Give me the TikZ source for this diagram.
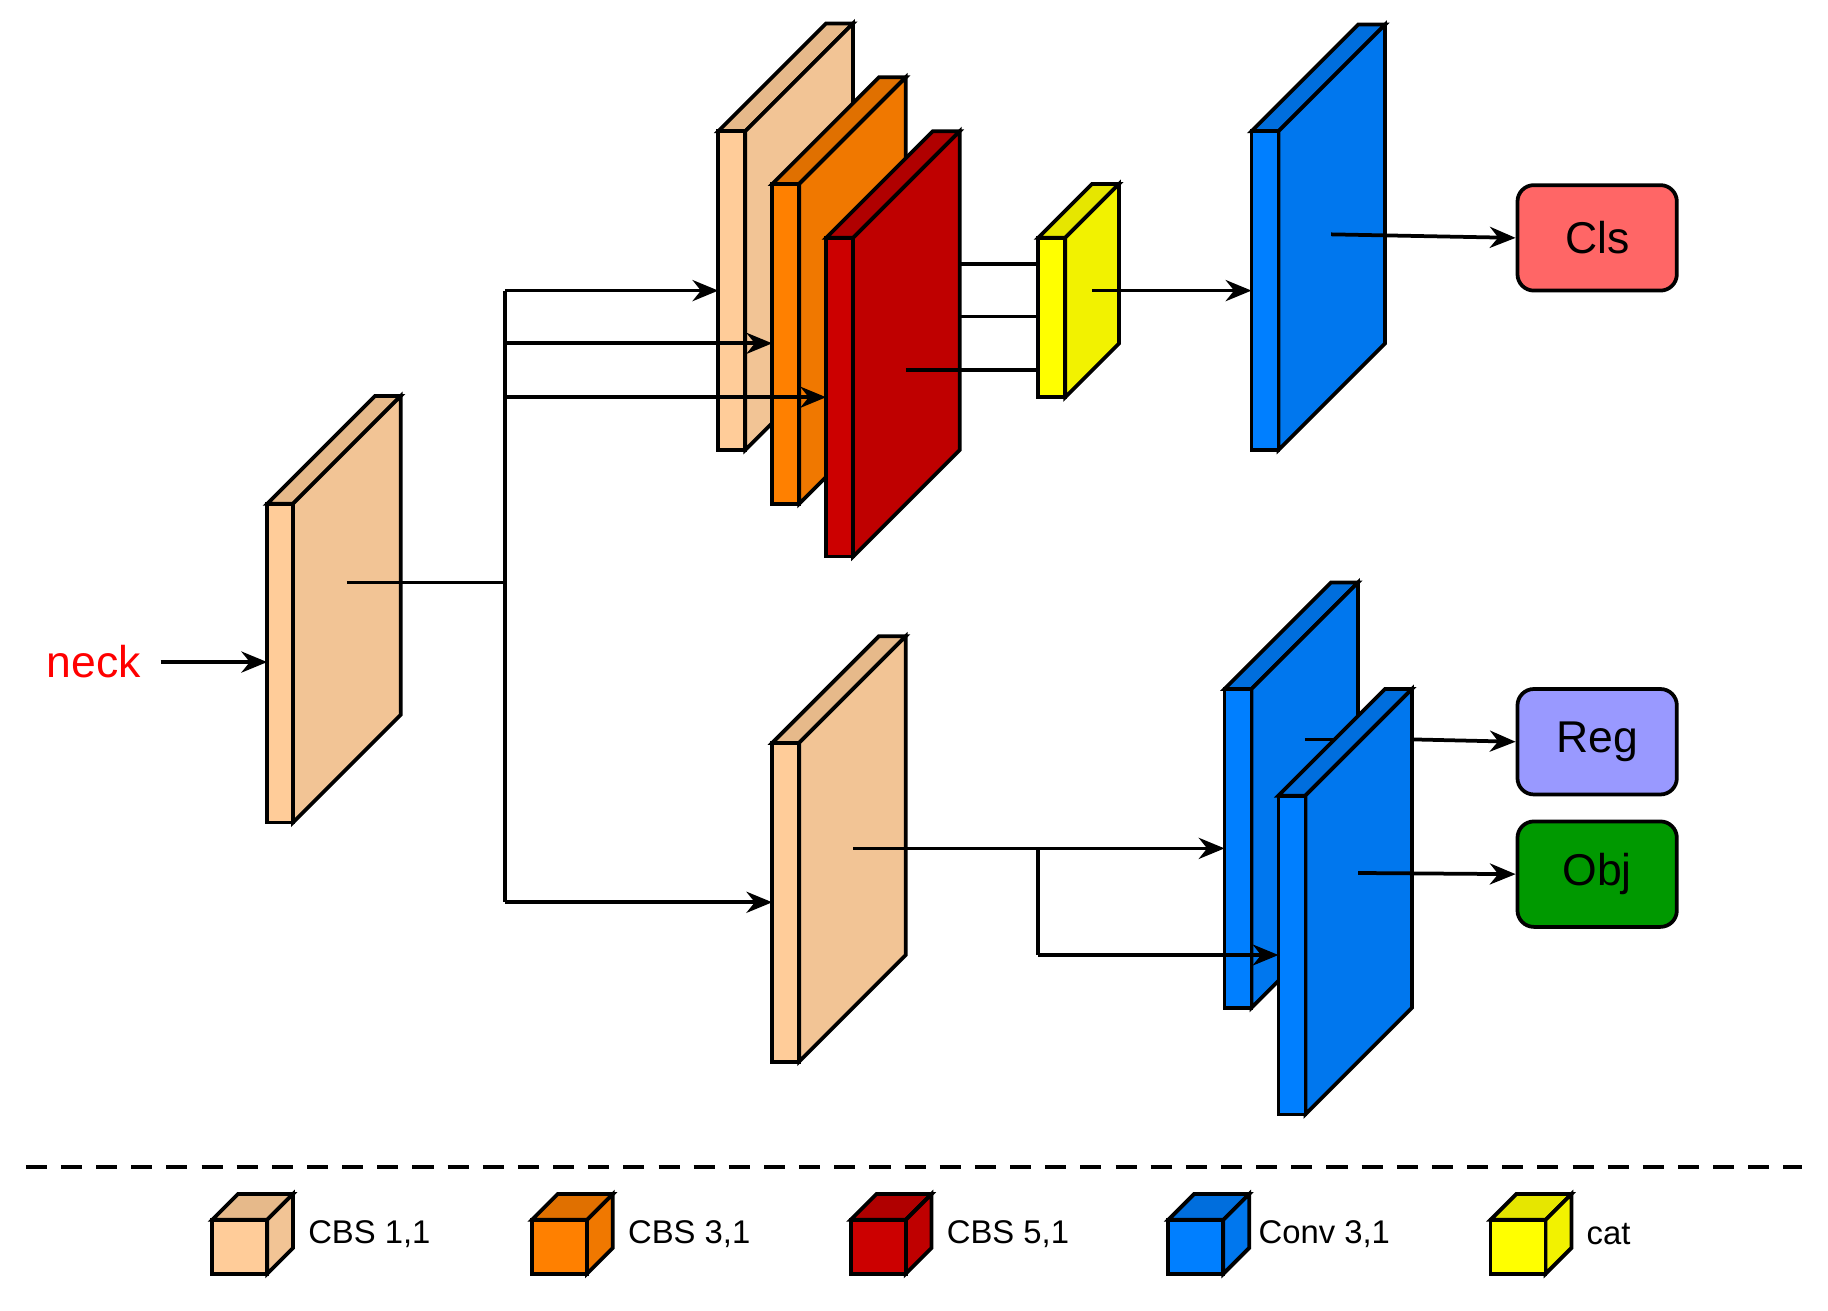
\documentclass[tikz,border=0pt]{standalone}
\usepackage{fontspec}
\setmainfont{Liberation Sans}
\begin{document}
\begin{tikzpicture}[x=0.5pt,y=-0.5pt,line join=miter,
  edge/.style={line width=1.6pt},
  arr/.style={edge,-{Stealth[length=11pt,width=9pt]}},
  head/.style={draw,line width=1.6pt,rounded corners=7pt,minimum width=68pt,minimum height=45pt,font=\fontsize{19}{19}\selectfont},
  lbl/.style={anchor=west,font=\fontsize{14}{14}\selectfont}]
\usetikzlibrary{arrows.meta}
\definecolor{lf}{HTML}{FFCC99}\definecolor{ls}{HTML}{F2C495}\definecolor{lt}{HTML}{E6B98A}
\definecolor{of}{HTML}{FF8000}\definecolor{os}{HTML}{F07800}\definecolor{ot}{HTML}{E07000}
\definecolor{rf}{HTML}{CC0000}\definecolor{rs}{HTML}{BF0000}\definecolor{rt}{HTML}{B00000}
\definecolor{bf}{HTML}{007FFF}\definecolor{bs}{HTML}{0077EE}\definecolor{bt}{HTML}{006EDD}
\definecolor{yf}{HTML}{FFFF00}\definecolor{ys}{HTML}{F2F200}\definecolor{yt}{HTML}{E6E600}
\useasboundingbox (0,0) rectangle (1560,1118);
% \cube{x1}{y1}{x2}{y2}{d}{front}{side}{top}
\newcommand{\mycube}[8]{%
  \filldraw[fill=#8,line width=1.6pt] (#1,#2) -- (#3,#2) -- ++(#5,-#5) -- ++(-#3+#1,0) -- cycle;
  \filldraw[fill=#7,line width=1.6pt] (#3,#2) -- ++(#5,-#5) -- ($(#3,#4)+(#5,-#5)$) -- (#3,#4) -- cycle;
  \filldraw[fill=#6,line width=1.6pt] (#1,#2) rectangle (#3,#4);}
\usetikzlibrary{calc}
% cubes
\mycube{228}{430}{250}{702}{92}{lf}{ls}{lt}
\mycube{613}{112}{636}{384}{92}{lf}{ls}{lt}
\mycube{659}{157}{682}{430}{91}{of}{os}{ot}
\mycube{705}{203}{728}{475}{91}{rf}{rs}{rt}
\mycube{886}{203}{909}{339}{46}{yf}{ys}{yt}
\mycube{1068}{112}{1091}{384}{91}{bf}{bs}{bt}
\mycube{659}{634}{682}{906}{91}{lf}{ls}{lt}
\mycube{1045}{588}{1068}{860}{91}{bf}{bs}{bt}
\coordinate (rs) at (1114,631);
\coordinate (rr) at (1205,631);
\draw[edge] (rs) -- (1150,631);
\mycube{1091}{679}{1114}{951}{91}{bf}{bs}{bt}
% heads
\node[head,fill={rgb,255:red,255;green,102;blue,102}] (cls) at (1363,203) {Cls};
\node[head,fill={rgb,255:red,153;green,153;blue,255}] (reg) at (1363,633) {Reg};
\node[head,fill={rgb,255:red,0;green,153;blue,0}] (obj) at (1363,746) {Obj};
\node[text=red,font=\fontsize{19}{19}\selectfont] (neck) at (80,565) {neck};
% coordinates
\coordinate (n1) at (137,565); \coordinate (c1in) at (228,565);
\coordinate (c1) at (296,497); \coordinate (j) at (431,497);
\coordinate (ja) at (431,248); \coordinate (jb) at (431,293); \coordinate (jc) at (431,339); \coordinate (jd) at (431,770);
\coordinate (la) at (613,248); \coordinate (oa) at (659,293); \coordinate (ra) at (705,339); \coordinate (ba) at (659,770);
\coordinate (y1) at (932,248); \coordinate (bin) at (1068,248); \coordinate (bout) at (1136,200);
\coordinate (lo) at (728,724); \coordinate (k) at (886,724); \coordinate (k2) at (886,815);
% connectors
\draw[arr] (n1) -- (c1in);
\draw[edge] (c1) -- (j);
\draw[edge] (ja) -- (jd);
\draw[arr] (ja) -- (la);
\draw[arr] (jb) -- (oa);
\draw[arr] (jc) -- (ra);
\draw[arr] (jd) -- (ba);
\draw[edge] (819,225) -- (886,225);
\draw[edge] (819,270) -- (886,270);
\draw[edge] (773,316) -- (886,316);
\draw[arr] (y1) -- (bin);
\draw[arr] (bout) -- (cls.west);
\draw[arr] (lo) -- (1045,724);
\draw[edge] (k) -- (k2);
\draw[arr] (k2) -- (1091,815);
\draw[arr] (rr) -- (reg.west);
\draw[arr] (1159,745) -- (obj.west);
% legend
\draw[line width=1.6pt,dash pattern=on 9pt off 6pt] (22,996) -- (1538,996);
\mycube{181}{1041}{228}{1087}{22}{lf}{ls}{lt}
\mycube{454}{1041}{501}{1087}{22}{of}{os}{ot}
\mycube{726}{1041}{773}{1087}{22}{rf}{rs}{rt}
\mycube{997}{1041}{1044}{1087}{22}{bf}{bs}{bt}
\mycube{1272}{1041}{1319}{1087}{22}{yf}{ys}{yt}
\node[lbl] (t1) at (256,1053) {CBS 1,1};
\node[lbl] (t2) at (529,1053) {CBS 3,1};
\node[lbl] (t3) at (801,1053) {CBS 5,1};
\node[lbl] (t4) at (1067,1053) {Conv 3,1};
\node[lbl] (t5) at (1347,1053) {cat};
\end{tikzpicture}
\end{document}
